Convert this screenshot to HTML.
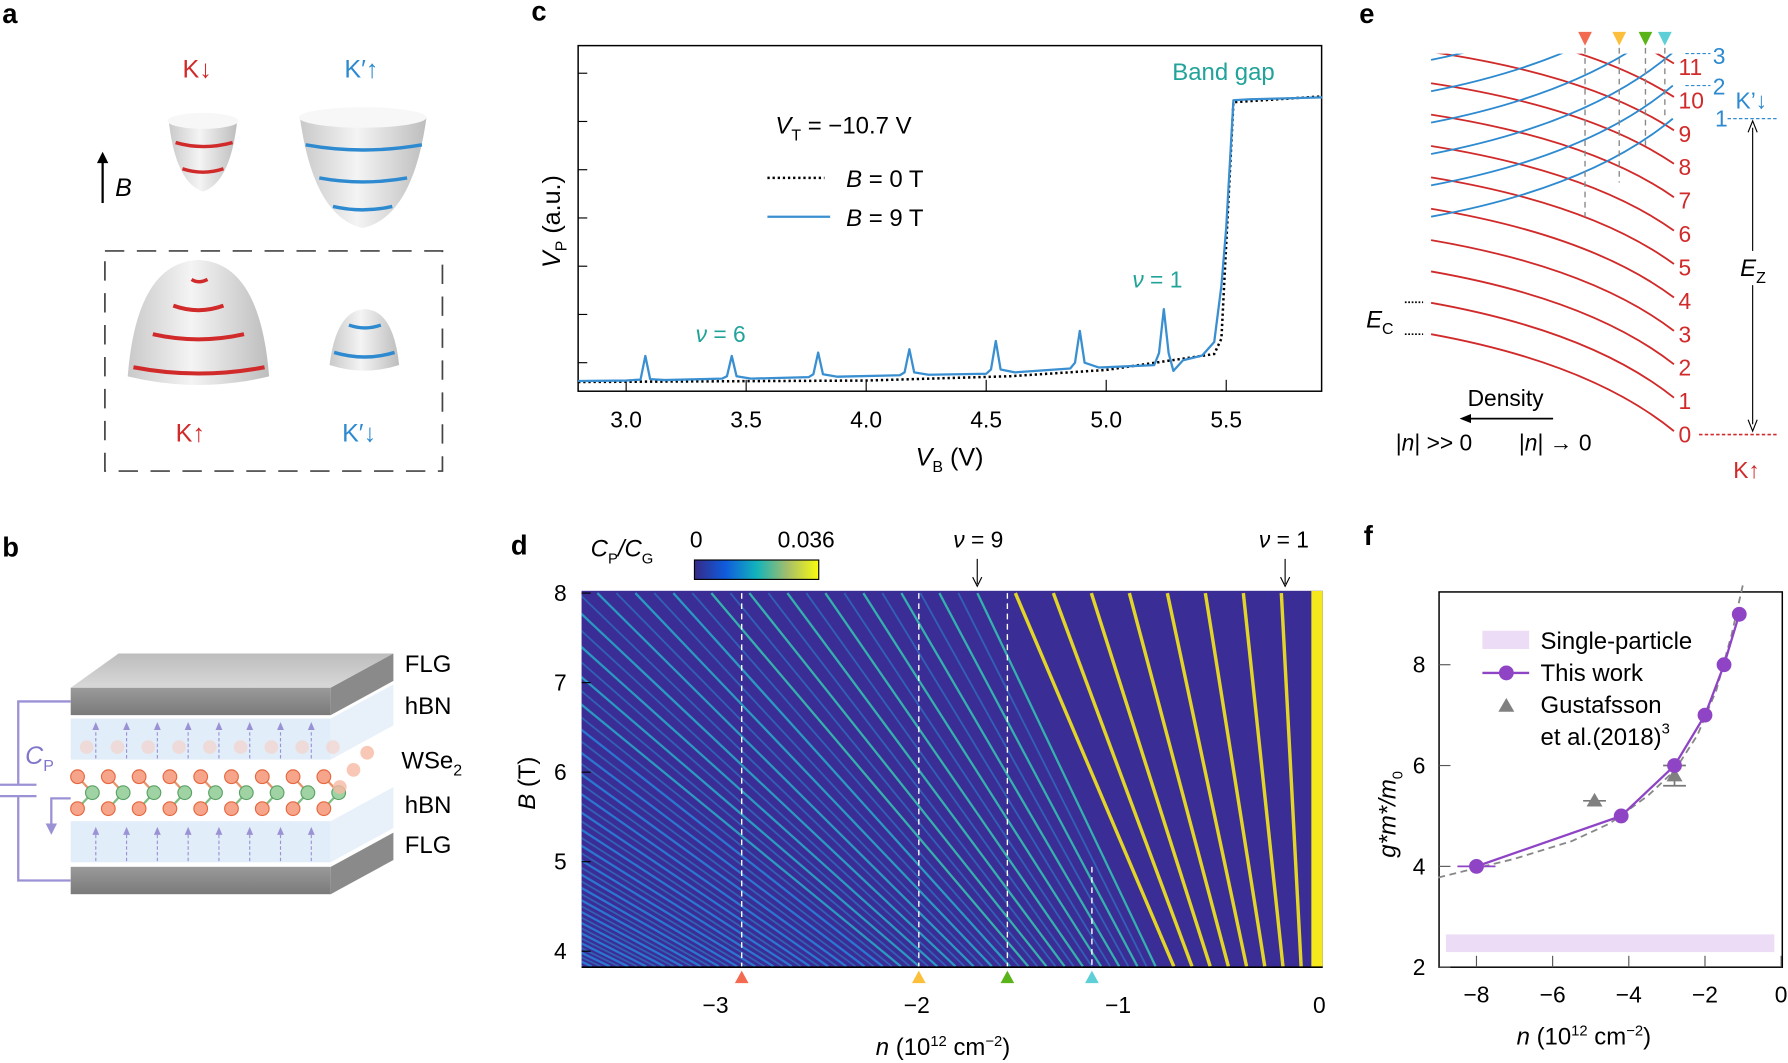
<!DOCTYPE html>
<html><head><meta charset="utf-8"><style>
html,body{margin:0;padding:0;background:#fff}
svg{display:block}
text{font-family:"Liberation Sans",sans-serif}
</style></head><body>
<svg id="fig" width="1788" height="1063" viewBox="0 0 1568 932" preserveAspectRatio="none" xmlns="http://www.w3.org/2000/svg">
<defs>
<linearGradient id="cupG" x1="0" x2="1" y1="0" y2="0"><stop offset="0" stop-color="#c9c9c9"/><stop offset="0.45" stop-color="#f4f4f4"/><stop offset="1" stop-color="#bdbdbd"/></linearGradient>
<linearGradient id="parula" x1="0" x2="1"><stop offset="0" stop-color="#352a87"/><stop offset="0.25" stop-color="#0f5cdd"/><stop offset="0.5" stop-color="#12b3bb"/><stop offset="0.75" stop-color="#a5be6a"/><stop offset="1" stop-color="#f9fb0e"/></linearGradient>
<linearGradient id="slabTop" x1="0" x2="0" y1="0" y2="1"><stop offset="0" stop-color="#bdbdbd"/><stop offset="1" stop-color="#d8d8d8"/></linearGradient>
<linearGradient id="slabFront" x1="0" x2="0" y1="0" y2="1"><stop offset="0" stop-color="#9a9a9a"/><stop offset="1" stop-color="#7a7a7a"/></linearGradient>
<clipPath id="eClip"><rect x="1250" y="47" width="230" height="345"/></clipPath>
<clipPath id="dClip"><rect x="510" y="518" width="650" height="330"/></clipPath>
</defs>

<g font-weight="bold" font-size="24">
<text x="2" y="20">a</text>
<text x="466" y="18">c</text>
<text x="1192" y="20">e</text>
<text x="2" y="488">b</text>
<text x="448" y="486">d</text>
<text x="1196" y="478">f</text>
</g>

<!-- ============ panel a ============ -->
<g font-size="22">
<text x="160" y="68" fill="#d12a2a">K↓</text>
<text x="302" y="68" fill="#2d8ad0">K′↑</text>
<line x1="90" y1="178" x2="90" y2="137" stroke="#000" stroke-width="2"/>
<path d="M85,143 L90,133 L95,143 Z" fill="#000"/>
<text x="101" y="172" font-style="italic">B</text>
<g>
<path d="M148,106 Q154,160 178,168 Q202,160 208,106 Z" fill="url(#cupG)"/>
<ellipse cx="178" cy="106" rx="31" ry="7" fill="#f7f7f7"/>
<path d="M154,125 Q178,132 204,125" stroke="#d12a2a" stroke-width="3" fill="none"/>
<path d="M160,148 Q178,154 196,148" stroke="#d12a2a" stroke-width="3" fill="none"/>
</g>
<g>
<path d="M263,103 Q275,190 318,200 Q362,190 374,103 Z" fill="url(#cupG)"/>
<ellipse cx="318" cy="103" rx="56" ry="9" fill="#f7f7f7"/>
<path d="M268,127 Q318,136 370,127" stroke="#2d8ad0" stroke-width="3" fill="none"/>
<path d="M280,156 Q318,163 357,156" stroke="#2d8ad0" stroke-width="3" fill="none"/>
<path d="M292,181 Q318,187 344,181" stroke="#2d8ad0" stroke-width="3" fill="none"/>
</g>
<rect x="92" y="220" width="296" height="193" fill="none" stroke="#444" stroke-width="1.5" stroke-dasharray="17,11"/>
<g>
<path d="M112,330 Q120,230 174,228 Q228,230 236,330 Q174,345 112,330 Z" fill="url(#cupG)"/>
<path d="M168,245 Q174,249 182,245" stroke="#d12a2a" stroke-width="3" fill="none"/>
<path d="M152,268 Q174,276 196,268" stroke="#d12a2a" stroke-width="3.5" fill="none"/>
<path d="M134,293 Q174,302 214,293" stroke="#d12a2a" stroke-width="3.5" fill="none"/>
<path d="M117,322 Q174,333 232,322" stroke="#d12a2a" stroke-width="3.5" fill="none"/>
</g>
<g>
<path d="M289,320 Q295,272 320,271 Q345,272 350,320 Q320,330 289,320 Z" fill="url(#cupG)"/>
<path d="M306,285 Q320,290 334,285" stroke="#2d8ad0" stroke-width="3" fill="none"/>
<path d="M293,309 Q320,317 346,309" stroke="#2d8ad0" stroke-width="3" fill="none"/>
</g>
<text x="154" y="387" fill="#d12a2a">K↑</text>
<text x="300" y="387" fill="#2d8ad0">K′↓</text>
</g>

<!-- ============ panel b ============ -->
<g>
<g>
<polygon points="62,603 104,573 345,573 290,603" fill="url(#slabTop)"/>
<rect x="62" y="603" width="228" height="24" fill="url(#slabFront)"/>
<polygon points="290,603 345,573 345,597 290,627" fill="#8a8a8a"/>
</g>
<g>
<rect x="62" y="630" width="228" height="36" fill="#dceaf7" opacity="0.85"/>
<polygon points="290,630 345,600 345,636 290,666" fill="#e8f1fa"/>
</g>
<g>
<rect x="62" y="720" width="228" height="36" fill="#dceaf7" opacity="0.85"/>
<polygon points="290,720 345,690 345,726 290,756" fill="#e8f1fa"/>
</g>
<g>
<rect x="62" y="760" width="228" height="24" fill="url(#slabFront)"/>
<polygon points="290,760 345,730 345,754 290,784" fill="#8a8a8a"/>
</g>
<g id="atoms"></g>
<g stroke="#9b92d6" stroke-width="2" fill="none">
<polyline points="62,615 16,615 16,688"/>
<line x1="0" y1="688" x2="32" y2="688"/>
<line x1="0" y1="698" x2="32" y2="698"/>
<polyline points="16,698 16,772 62,772"/>
<polyline points="62,700 45,700 45,725"/>
</g>
<path d="M40,722 L45,732 L50,722 Z" fill="#9b92d6"/>
<text x="22" y="670" font-size="22" font-style="italic" fill="#7f76c9">C<tspan font-size="14" dy="6" font-style="normal">P</tspan></text>
<g font-size="21">
<text x="355" y="589">FLG</text>
<text x="355" y="626">hBN</text>
<text x="352" y="674">WSe<tspan font-size="14" dy="6">2</tspan></text>
<text x="355" y="713">hBN</text>
<text x="355" y="748">FLG</text>
</g>
</g>

<g id="panelC"></g>
<g id="panelE"></g>
<g id="panelD"></g>
<g id="panelF"></g>
</svg>

<script>
// ---------- panel c data ----------
const cBlueV = [2.8,3.0,3.06,3.08,3.10,3.16,3.40,3.42,3.44,3.46,3.52,3.76,3.78,3.80,3.82,3.88,4.14,4.16,4.18,4.20,4.26,4.50,4.52,4.54,4.56,4.62,4.85,4.87,4.89,4.91,4.97,5.20,5.22,5.24,5.26,5.28,5.32,5.40,5.45,5.48,5.50,5.53,5.60,5.90];
const cBlueY = [0.62,0.63,0.65,1.14,0.66,0.64,0.67,0.72,1.14,0.72,0.67,0.70,0.76,1.21,0.76,0.71,0.74,0.80,1.28,0.80,0.75,0.77,0.86,1.45,0.86,0.80,0.88,1.0,1.66,1.0,0.90,0.95,1.2,2.11,1.2,0.83,1.05,1.15,1.43,2.6,3.8,6.44,6.46,6.50];
const cZeroV = [2.8,4.0,4.6,5.0,5.45,5.48,5.53,5.90];
const cZeroY = [0.60,0.63,0.72,0.85,1.18,1.5,6.4,6.52];
const cXTicks = [3.0,3.5,4.0,4.5,5.0,5.5];
const cYTicks = [1,2,3,4,5,6,7];
// ---------- panel d data ----------
const dNu = [1,2,3,4,5,6,7,8,9,10,11,12,13,14,15,16,17,18,19,20,21,22,23,24,25,26,27,28,29,30,31,32,33,34,35,36,37,38,39,40];
const dIntensity = [1,0.95,0.95,0.9,0.95,0.9,0.85,0.8,0.5,0.52,0.5,0.5,0.5,0.5,0.48,0.48,0.45,0.45,0.42,0.42,0.4,0.4,0.4,0.38,0.38,0.36,0.36,0.35,0.35,0.34,0.34,0.33,0.33,0.32,0.32,0.32,0.3,0.3,0.3,0.3];
const dXTicks = [-3,-2,-1,0];
const dYTicks = [4,5,6,7,8];
const dMarkers = [-2.87,-1.99,-1.55,-1.13];
// ---------- panel f data ----------
const fThisN = [-8,-4.2,-2.8,-2.0,-1.5,-1.1];
const fThisG = [4,5,6,7,8,9];
const fGustN = [-4.9,-2.8];
const fGustG = [5.3,5.8];
const fGustErr = [0,0.2];
const fFitN = [-9,-7,-5.5,-4.5,-3.5,-2.8,-2.2,-1.7,-1.3,-1.0];
const fFitG = [3.78,4.15,4.5,4.85,5.4,5.9,6.6,7.5,8.6,9.6];
const fXTicks = [-8,-6,-4,-2,0];
const fYTicks = [2,4,6,8];

const NS="http://www.w3.org/2000/svg";
function mk(parent,tag,attrs,txt){const e=document.createElementNS(NS,tag);for(const k in attrs)e.setAttribute(k,attrs[k]);if(txt!==undefined)e.textContent=txt;parent.appendChild(e);return e;}

// ---------- panel c ----------
(function(){
 const g=document.getElementById('panelC');
 const X=v=>507+(v-2.8)*210.5, Y=v=>318-(v-1)*42.3;
 const fr=mk(g,'rect',{x:507,y:40,width:652,height:303,fill:'none',stroke:'#000','stroke-width':1.3});
 
 
 cXTicks.forEach(t=>{mk(g,'line',{x1:X(t),x2:X(t),y1:343,y2:333,stroke:'#000'});
  const tx=mk(g,'text',{x:X(t),y:375,'font-size':20,'text-anchor':'middle'},t.toFixed(1));
  
  });
 cYTicks.forEach(t=>{mk(g,'line',{x1:507,x2:515,y1:Y(t),y2:Y(t),stroke:'#000'});});
 const z=mk(g,'polyline',{points:cZeroV.map((v,i)=>X(v)+','+Y(cZeroY[i])).join(' '),fill:'none',stroke:'#000','stroke-width':2.2,'stroke-dasharray':'2,2.5'});
 
 
 const b=mk(g,'polyline',{points:cBlueV.map((v,i)=>X(v)+','+Y(cBlueY[i])).join(' '),fill:'none',stroke:'#3a8fd1','stroke-width':2,'stroke-linejoin':'round'});
 
 
 const lab=[['x-axis-title','<tspan font-style="italic">V</tspan><tspan font-size="14" dy="6">B</tspan><tspan dy="-6"> (V)</tspan>',803,408,'start',22,'#000'],
 ['band-gap-label','Band gap',1028,70,'start',21,'#22a39a'],
 ['nu6-label','<tspan font-style="italic">ν</tspan> = 6',610,300,'start',20,'#22a39a'],
 ['nu1-label','<tspan font-style="italic">ν</tspan> = 1',993,252,'start',20,'#22a39a'],
 ['vt-label','<tspan font-style="italic">V</tspan><tspan font-size="14" dy="6">T</tspan><tspan dy="-6"> = −10.7 V</tspan>',680,117,'start',21,'#000'],
 ['legend-b0','<tspan font-style="italic">B</tspan> = 0 T',742,164,'start',21,'#000'],
 ['legend-b9','<tspan font-style="italic">B</tspan> = 9 T',742,198,'start',21,'#000']];
 lab.forEach(l=>{const t=mk(g,'text',{x:l[2],y:l[3],'font-size':l[5],fill:l[6],'text-anchor':l[4]});t.innerHTML=l[1];
  
  });
 mk(g,'line',{x1:673,x2:723,y1:156,y2:156,stroke:'#000','stroke-width':2.2,'stroke-dasharray':'2,2.5'});
 mk(g,'line',{x1:673,x2:728,y1:190,y2:190,stroke:'#3a8fd1','stroke-width':2});
 const yl=mk(g,'text',{x:0,y:0,'font-size':22,transform:'translate(491,235) rotate(-90)'});
 yl.innerHTML='<tspan font-style="italic">V</tspan><tspan font-size="14" dy="6">P</tspan><tspan dy="-6"> (a.u.)</tspan>';
 
 
})();

// ---------- panel e ----------
(function(){
 const g=document.getElementById('panelE');
 const cg=mk(g,'g',{'clip-path':'url(#eClip)'});
 for(let k=0;k<12;k++){const ys=293-27.5*k, ye=378-29.3*k;
  const p=mk(cg,'path',{d:`M1255,${ys} Q1395,${ys+0.3*(ye-ys)} 1468,${ye}`,fill:'none',stroke:'#d12a2a','stroke-width':1.6});
  
  }
 for(let k=0;k<7;k++){const ys=190-27.5*k, ye=104-29*k;
  const p=mk(cg,'path',{d:`M1255,${ys} Q1395,${ys-0.3*(ys-ye)} 1467,${ye}`,fill:'none',stroke:'#2d8ad0','stroke-width':1.6});
  
  }
 const cols=['#f26b50','#fbbf3c','#5bb31a','#5ecfd6'], vx=[1390,1420,1443,1460], vb=[190,160,132,104];
 vx.forEach((x,i)=>{mk(g,'line',{x1:x,x2:x,y1:42,y2:vb[i],stroke:'#888','stroke-dasharray':'5,4','stroke-width':1.2});
  const t=mk(g,'path',{d:`M${x-6},28 L${x+6},28 L${x},40 Z`,fill:cols[i]});
  
  });
 const red=['0','1','2','3','4','5','6','7','8','9','10','11'];
 red.forEach((s,k)=>{mk(g,'text',{x:1472,y:388-29.3*k,'font-size':20,fill:'#d12a2a'},s);});
 mk(g,'text',{x:1502,y:56,'font-size':20,fill:'#2d8ad0'},'3');
 mk(g,'text',{x:1502,y:83,'font-size':20,fill:'#2d8ad0'},'2');
 mk(g,'text',{x:1504,y:111,'font-size':20,fill:'#2d8ad0'},'1');
 mk(g,'text',{x:1522,y:95,'font-size':20,fill:'#2d8ad0'},'K’↓');
 [[47,1478,1500],[75,1478,1500],[104,1515,1560]].forEach(a=>mk(g,'line',{x1:a[1],x2:a[2],y1:a[0],y2:a[0],stroke:'#2d8ad0','stroke-dasharray':'3,2'}));
 mk(g,'line',{x1:1490,x2:1560,y1:381,y2:381,stroke:'#d12a2a','stroke-dasharray':'3,2','stroke-width':1.5});
 mk(g,'text',{x:1520,y:419,'font-size':20,fill:'#d12a2a'},'K↑');
 mk(g,'line',{x1:1537,x2:1537,y1:112,y2:220,stroke:'#000'});
 mk(g,'line',{x1:1537,x2:1537,y1:250,y2:372,stroke:'#000'});
 mk(g,'path',{d:'M1533,116 L1537,106 L1541,116',fill:'none',stroke:'#000'});
 mk(g,'path',{d:'M1533,368 L1537,378 L1541,368',fill:'none',stroke:'#000'});
 const ez=mk(g,'text',{x:1526,y:242,'font-size':21,'font-style':'italic'});ez.innerHTML='E<tspan font-size="14" dy="6" font-style="normal">Z</tspan>';
 const ec=mk(g,'text',{x:1198,y:287,'font-size':21,'font-style':'italic'});ec.innerHTML='E<tspan font-size="14" dy="6" font-style="normal">C</tspan>';
 mk(g,'line',{x1:1232,x2:1248,y1:265,y2:265,stroke:'#000','stroke-dasharray':'1.5,1.5','stroke-width':1.5});
 mk(g,'line',{x1:1232,x2:1248,y1:293,y2:293,stroke:'#000','stroke-dasharray':'1.5,1.5','stroke-width':1.5});
 mk(g,'text',{x:1287,y:356,'font-size':20},'Density');
 mk(g,'line',{x1:1362,x2:1286,y1:367,y2:367,stroke:'#000','stroke-width':1.5});
 mk(g,'path',{d:'M1290,363 L1280,367 L1290,371 Z',fill:'#000'});
 const n1=mk(g,'text',{x:1224,y:395,'font-size':20});n1.innerHTML='|<tspan font-style="italic">n</tspan>| &gt;&gt; 0';
 const n2=mk(g,'text',{x:1332,y:395,'font-size':20});n2.innerHTML='|<tspan font-style="italic">n</tspan>| → 0';
})();

// ---------- atoms (panel b) ----------
(function(){
 const g=document.getElementById('atoms');
 for(let i=0;i<9;i++){const x=68+i*27;
  mk(g,'circle',{cx:x+8,cy:655,r:6,fill:'#f6cfc4',opacity:0.6});
  mk(g,'line',{x1:x,y1:681,x2:x+13,y2:695,stroke:'#e8956e','stroke-width':2});
  mk(g,'line',{x1:x,y1:709,x2:x+13,y2:695,stroke:'#7fbf86','stroke-width':2});
  mk(g,'circle',{cx:x,cy:681,r:6,fill:'#f7a58a',stroke:'#e5673f'});
  mk(g,'circle',{cx:x,cy:709,r:6,fill:'#f7a58a',stroke:'#e5673f'});
  mk(g,'circle',{cx:x+13,cy:695,r:6,fill:'#9fd3a3',stroke:'#5aa165'});}
 for(let i=0;i<3;i++){mk(g,'circle',{cx:298+i*12,cy:690-i*15,r:6,fill:'#f7b9a4',opacity:0.8});}
 for(let i=0;i<8;i++){const x=84+i*27;
  mk(g,'line',{x1:x,x2:x,y1:665,y2:636,stroke:'#9b92d6','stroke-dasharray':'3,2'});
  mk(g,'path',{d:`M${x-3},640 L${x},633 L${x+3},640 Z`,fill:'#9b92d6'});
  mk(g,'line',{x1:x,x2:x,y1:755,y2:728,stroke:'#9b92d6','stroke-dasharray':'3,2'});
  mk(g,'path',{d:`M${x-3},732 L${x},725 L${x+3},732 Z`,fill:'#9b92d6'});}
})();

// ---------- panel d ----------
(function(){
 const g=document.getElementById('panelD');
 const X=n=>1157+n*176.5, Y=b=>520+(8-b)*78.5;
 const bg=mk(g,'rect',{x:510,y:518,width:650,height:330,fill:'#3a2e96'});
 
 
 const cg=mk(g,'g',{'clip-path':'url(#dClip)'});
 function col(v){if(v>0.75)return '#f5e81c';if(v>0.6)return '#c9c23a';if(v>0.46)return '#35bfb0';if(v>0.38)return '#2aa6c6';return '#2a7fd6';}
 dNu.forEach((nu,i)=>{const s=0.0236;
  const l=mk(cg,'line',{x1:X(-nu*s*8),y1:Y(8),x2:X(-nu*s*3.83),y2:Y(3.83),stroke:col(dIntensity[i]),'stroke-width':dIntensity[i]>0.75?3:2,opacity:0.9});
  
  
  if(nu>=9){const l2=mk(cg,'line',{x1:X(-(nu+0.5)*s*8),y1:Y(8),x2:X(-(nu+0.5)*s*3.83),y2:Y(3.83),stroke:'#2a8ad0','stroke-width':1.6,opacity:0.55});
   
   }
 });
 mk(cg,'rect',{x:1150,y:518,width:10,height:330,fill:'#f5e81c'});
 const cols=['#f26b50','#fbbf3c','#5bb31a','#5ecfd6'];
 dMarkers.forEach((n,i)=>{mk(g,'line',{x1:X(n),x2:X(n),y1:i==3?760:520,y2:848,stroke:'#fff','stroke-dasharray':'5,4','stroke-width':1.2});
  const t=mk(g,'path',{d:`M${X(n)-6},862 L${X(n)+6},862 L${X(n)},851 Z`,fill:cols[i]});
  
  });
 mk(g,'line',{x1:510,x2:1160,y1:848,y2:848,stroke:'#000','stroke-width':1.5});
 dXTicks.forEach(t=>{const tx=mk(g,'text',{x:X(t),y:888,'font-size':20,'text-anchor':'middle'},t===0?'0':'−'+Math.abs(t));
  
  });
 dYTicks.forEach(t=>{mk(g,'line',{x1:510,x2:518,y1:Y(t),y2:Y(t),stroke:'#000'});
  const tx=mk(g,'text',{x:497,y:Y(t)+7,'font-size':20,'text-anchor':'end'},String(t));
  
  });
 const xl=mk(g,'text',{x:768,y:925,'font-size':21});xl.innerHTML='<tspan font-style="italic">n</tspan> (10<tspan font-size="13" dy="-8">12</tspan><tspan dy="8"> cm</tspan><tspan font-size="13" dy="-8">−2</tspan><tspan dy="8">)</tspan>';
 
 
 const yl=mk(g,'text',{x:0,y:0,'font-size':21,transform:'translate(469,710) rotate(-90)'});yl.innerHTML='<tspan font-style="italic">B</tspan> (T)';
 
 
 const cb=mk(g,'rect',{x:609,y:491,width:109,height:17,fill:'url(#parula)',stroke:'#000','stroke-width':1});
 
 
 mk(g,'text',{x:605,y:480,'font-size':20},'0');
 mk(g,'text',{x:682,y:480,'font-size':20},'0.036');
 const cl=mk(g,'text',{x:518,y:488,'font-size':21,'font-style':'italic'});cl.innerHTML='C<tspan font-size="13" dy="6" font-style="normal">P</tspan><tspan dy="-6">/C</tspan><tspan font-size="13" dy="6" font-style="normal">G</tspan>';
 const a9=mk(g,'text',{x:836,y:480,'font-size':20});a9.innerHTML='<tspan font-style="italic">ν</tspan> = 9';
 const a1=mk(g,'text',{x:1104,y:480,'font-size':20});a1.innerHTML='<tspan font-style="italic">ν</tspan> = 1';
 [857,1127].forEach(x=>{mk(g,'line',{x1:x,x2:x,y1:490,y2:512,stroke:'#000'});mk(g,'path',{d:`M${x-4},506 L${x},514 L${x+4},506`,fill:'none',stroke:'#000'});});
})();

// ---------- panel f ----------
(function(){
 const g=document.getElementById('panelF');
 const X=n=>1562+n*33.4, Y=v=>848-(v-2)*44.2;
 const fr=mk(g,'rect',{x:1262,y:519,width:301,height:329,fill:'none',stroke:'#000','stroke-width':1.3});
 
 
 const band=mk(g,'rect',{x:1268,y:Y(2.65),width:288,height:Y(2.3)-Y(2.65),fill:'#ecdcf6'});
 
 
 fXTicks.forEach(t=>{mk(g,'line',{x1:X(t),x2:X(t),y1:848,y2:838,stroke:'#555'});
  const tx=mk(g,'text',{x:X(t),y:879,'font-size':20,'text-anchor':'middle'},t===0?'0':'−'+Math.abs(t));
  
  });
 fYTicks.forEach(t=>{mk(g,'line',{x1:1262,x2:1272,y1:Y(t),y2:Y(t),stroke:'#555'});
  const tx=mk(g,'text',{x:1250,y:Y(t)+7,'font-size':20,'text-anchor':'end'},String(t));
  
  });
 const fit=mk(g,'polyline',{points:fFitN.map((n,i)=>X(n)+','+Y(fFitG[i])).join(' '),fill:'none',stroke:'#888','stroke-width':1.6,'stroke-dasharray':'6,4'});
 
 
 fGustN.forEach((n,i)=>{const x=X(n),y=Y(fGustG[i]);
  if(fGustErr[i]>0){mk(g,'line',{x1:x,x2:x,y1:Y(fGustG[i]+fGustErr[i]),y2:Y(fGustG[i]-fGustErr[i]),stroke:'#777','stroke-width':1.5});
   mk(g,'line',{x1:x-10,x2:x+10,y1:Y(fGustG[i]-fGustErr[i]),y2:Y(fGustG[i]-fGustErr[i]),stroke:'#777','stroke-width':1.5});
   mk(g,'line',{x1:x-10,x2:x+10,y1:Y(fGustG[i]+fGustErr[i]),y2:Y(fGustG[i]+fGustErr[i]),stroke:'#777','stroke-width':1.5});}
  else mk(g,'line',{x1:x-10,x2:x+10,y1:y,y2:y,stroke:'#777','stroke-width':1.5});
  const t=mk(g,'path',{d:`M${x-7},${y+5} L${x+7},${y+5} L${x},${y-7} Z`,fill:'#808080'});
  
  });
 const ln=mk(g,'polyline',{points:fThisN.map((n,i)=>X(n)+','+Y(fThisG[i])).join(' '),fill:'none',stroke:'#8e44c4','stroke-width':2});
 
 
 mk(g,'line',{x1:X(-8.5),x2:X(-7.5),y1:Y(4),y2:Y(4),stroke:'#8e44c4','stroke-width':1.5});
 fThisN.forEach((n,i)=>{const c=mk(g,'circle',{cx:X(n),cy:Y(fThisG[i]),r:6.5,fill:'#8e44c4'});
  
  });
 mk(g,'rect',{x:1300,y:553,width:41,height:16,fill:'#ecdcf6'});
 mk(g,'line',{x1:1300,x2:1341,y1:590,y2:590,stroke:'#8e44c4','stroke-width':2});
 mk(g,'circle',{cx:1321,cy:590,r:6.5,fill:'#8e44c4'});
 mk(g,'path',{d:'M1314,624 L1328,624 L1321,612 Z',fill:'#808080'});
 const L=[['Single-particle',569],['This work',597],['Gustafsson',625]];
 L.forEach(l=>{const t=mk(g,'text',{x:1351,y:l[1],'font-size':21},l[0]);
  
  });
 const et=mk(g,'text',{x:1351,y:653,'font-size':21});et.innerHTML='et al.(2018)<tspan font-size="13" dy="-10">3</tspan>';
 const xl=mk(g,'text',{x:1330,y:916,'font-size':21});xl.innerHTML='<tspan font-style="italic">n</tspan> (10<tspan font-size="13" dy="-8">12</tspan><tspan dy="8"> cm</tspan><tspan font-size="13" dy="-8">−2</tspan><tspan dy="8">)</tspan>';
 
 
 const yl=mk(g,'text',{x:0,y:0,'font-size':21,transform:'translate(1224,752) rotate(-90)'});yl.innerHTML='<tspan font-style="italic">g*m*/m</tspan><tspan font-size="13" dy="6">0</tspan>';
 
 
})();
</script>
</body></html>
